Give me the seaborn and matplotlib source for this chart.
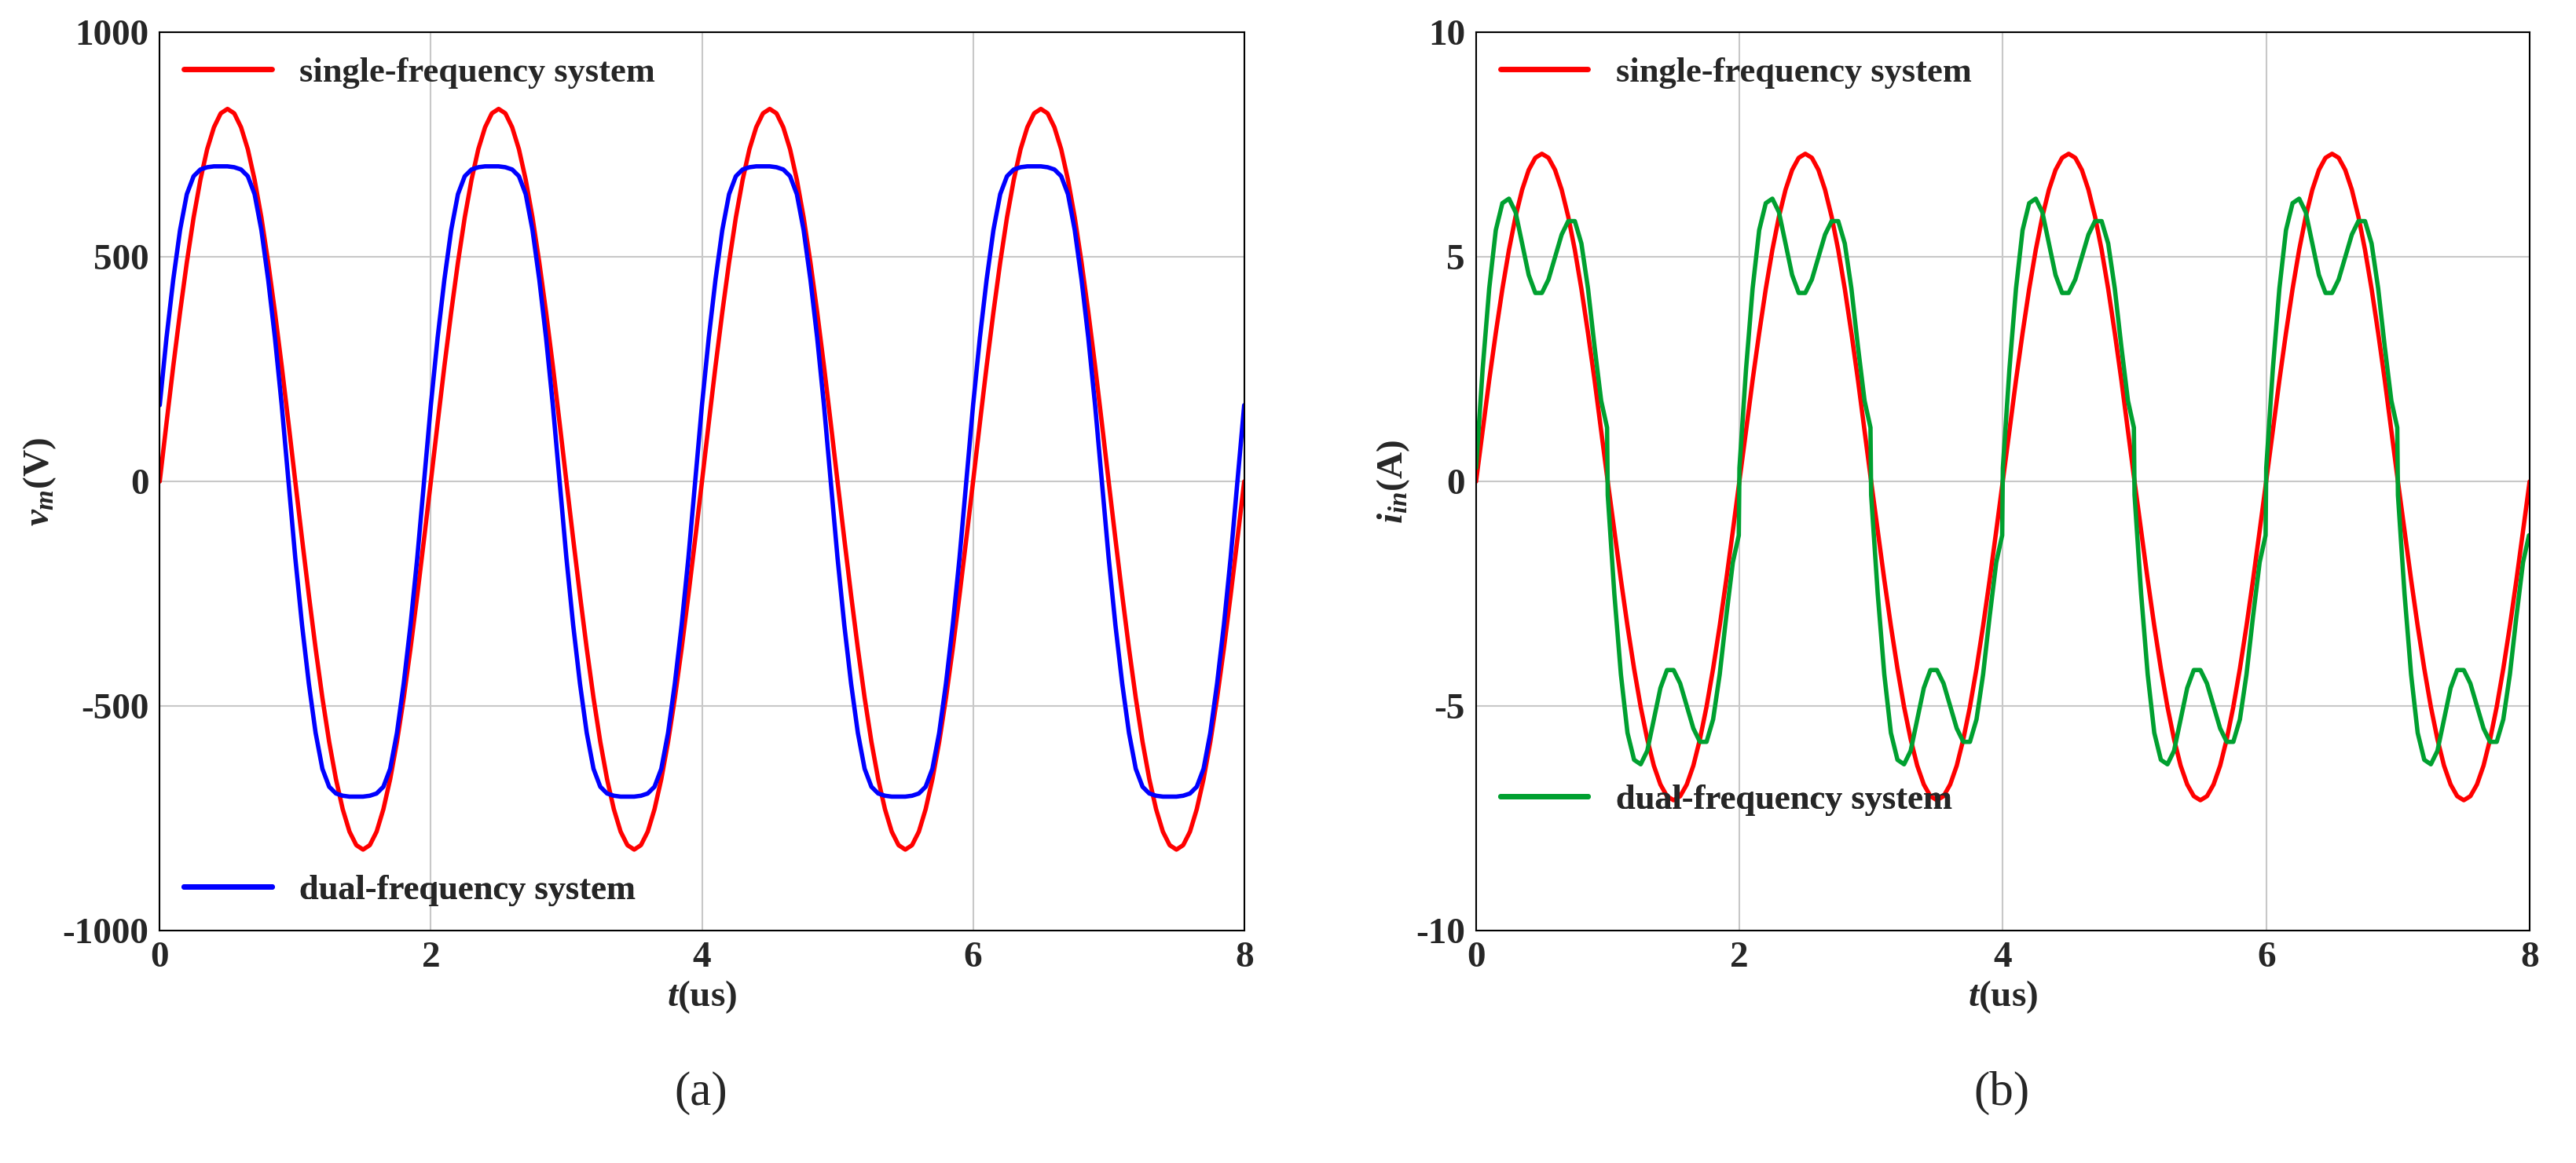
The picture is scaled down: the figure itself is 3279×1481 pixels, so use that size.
import numpy as np
import matplotlib
matplotlib.use("Agg")
import matplotlib.pyplot as plt
import seaborn as sns
import pandas as pd
from matplotlib.lines import Line2D

sns.set_theme(style="whitegrid")
plt.rcParams['font.family'] = ['Liberation Serif', 'DejaVu Serif']
plt.rcParams['font.weight'] = 'bold'
plt.rcParams['axes.unicode_minus'] = False
plt.rcParams['mathtext.fontset'] = 'custom'
plt.rcParams['mathtext.it'] = 'Liberation Serif:italic:bold'
plt.rcParams['mathtext.rm'] = 'Liberation Serif:bold'

# half periods (0..1 us) of each waveform; repeated for 4 periods
t_half = [0.0,0.05,0.1,0.15,0.2,0.25,0.3,0.35,0.4,0.45,0.5,0.55,0.6,0.65,0.7,0.75,0.8,0.85,0.9,0.95]
vm_single_pos = [0,130,257,377,488,588,672,740,789,820,830,820,789,740,672,588,488,377,257,130]
vm_single_neg = [0,-128,-253,-372,-482,-580,-663,-730,-780,-810,-820,-810,-780,-730,-663,-580,-482,-372,-253,-128]
vm_dual_pos = [170,320,450,560,640,680,695,700,702,702,702,700,695,680,640,560,450,320,170,0]

t_i_half = [0.0,0.05,0.1,0.15,0.2,0.25,0.3,0.35,0.4,0.45,0.5,0.55,0.6,0.65,0.7,0.75,0.8,0.85,0.9,0.95,0.995]
iin_single_pos = [0,1.13,2.26,3.31,4.29,5.16,5.90,6.50,6.94,7.21,7.3,7.21,6.94,6.50,5.90,5.16,4.29,3.31,2.26,1.13,0.1]
iin_single_neg = [0,-1.10,-2.19,-3.22,-4.17,-5.02,-5.74,-6.33,-6.75,-7.01,-7.1,-7.01,-6.75,-6.33,-5.74,-5.02,-4.17,-3.22,-2.19,-1.10,-0.1]
iin_dual_pos = [0.3,2.5,4.3,5.6,6.2,6.3,6.0,5.3,4.6,4.2,4.2,4.5,5.0,5.5,5.8,5.8,5.3,4.3,3.0,1.8,1.2]

n_periods = 4
tv, vs, vd = [], [], []
ti, isg, idu = [], [], []
for k in range(n_periods):
    tv += [2*k + x for x in t_half] + [2*k + 1 + x for x in t_half]
    vs += vm_single_pos + vm_single_neg
    vd += vm_dual_pos + [-y for y in vm_dual_pos]
    ti += [2*k + x for x in t_i_half] + [2*k + 1 + x for x in t_i_half]
    isg += iin_single_pos + iin_single_neg
    idu += iin_dual_pos + [-y for y in iin_dual_pos]
tv.append(8.0); vs.append(0); vd.append(170)
ti.append(8.0); isg.append(0); idu.append(-1.2)

fig = plt.figure(figsize=(32.79, 14.81), dpi=100)
ax1 = fig.add_axes([0.062, 0.20, 0.421, 0.772])
ax2 = fig.add_axes([0.573, 0.20, 0.409, 0.772])

dfv = pd.DataFrame({'t': tv, 's': vs, 'd': vd})
dfi = pd.DataFrame({'t': ti, 's': isg, 'd': idu})

sns.lineplot(data=dfv, x='t', y='s', ax=ax1, color='#ff0000', lw=4, sort=False)
sns.lineplot(data=dfv, x='t', y='d', ax=ax1, color='#0000ff', lw=4, sort=False)
sns.lineplot(data=dfi, x='t', y='s', ax=ax2, color='#ff0000', lw=4, sort=False)
sns.lineplot(data=dfi, x='t', y='d', ax=ax2, color='#00a030', lw=4, sort=False)

fs = 34
for ax, ylim, yt in [(ax1, (-1000, 1000), [-1000, -500, 0, 500, 1000]),
                     (ax2, (-10, 10), [-10, -5, 0, 5, 10])]:
    ax.set_xlim(0, 8); ax.set_ylim(*ylim)
    ax.set_xticks([0, 2, 4, 6, 8]); ax.set_yticks(yt)
    ax.tick_params(labelsize=fs, length=0, pad=10)
    for lab in ax.get_xticklabels() + ax.get_yticklabels():
        lab.set_fontweight('bold')
    for s in ax.spines.values():
        s.set_color('black'); s.set_linewidth(1.5)
    ax.grid(True, color='#c8c8c8', lw=1.5)
    ax.set_xlabel(r'$t$(us)', fontsize=fs, fontweight='bold')

ax1.set_ylabel(r'$v_m$(V)', fontsize=fs, fontweight='bold')
ax2.set_ylabel(r'$i_{in}$(A)', fontsize=fs, fontweight='bold')

def leg(ax, color, text, loc, anchor=None):
    kw = {} if anchor is None else {'bbox_to_anchor': anchor}
    lg = ax.legend([Line2D([], [], color=color, lw=5)], [text], loc=loc, frameon=False,
                   prop={'size': 32, 'weight': 'bold'}, handlelength=2.5, borderaxespad=0.3, **kw)
    ax.add_artist(lg)
leg(ax1, '#ff0000', 'single-frequency system', 'upper left')
leg(ax1, '#0000ff', 'dual-frequency system', 'lower left')
leg(ax2, '#ff0000', 'single-frequency system', 'upper left')
leg(ax2, '#00a030', 'dual-frequency system', 'upper left', (0.0, 0.19))

fig.text(0.272, 0.05, '(a)', ha='center', fontsize=44, fontweight='normal')
fig.text(0.777, 0.05, '(b)', ha='center', fontsize=44, fontweight='normal')
fig.savefig('out.png', dpi=100)
